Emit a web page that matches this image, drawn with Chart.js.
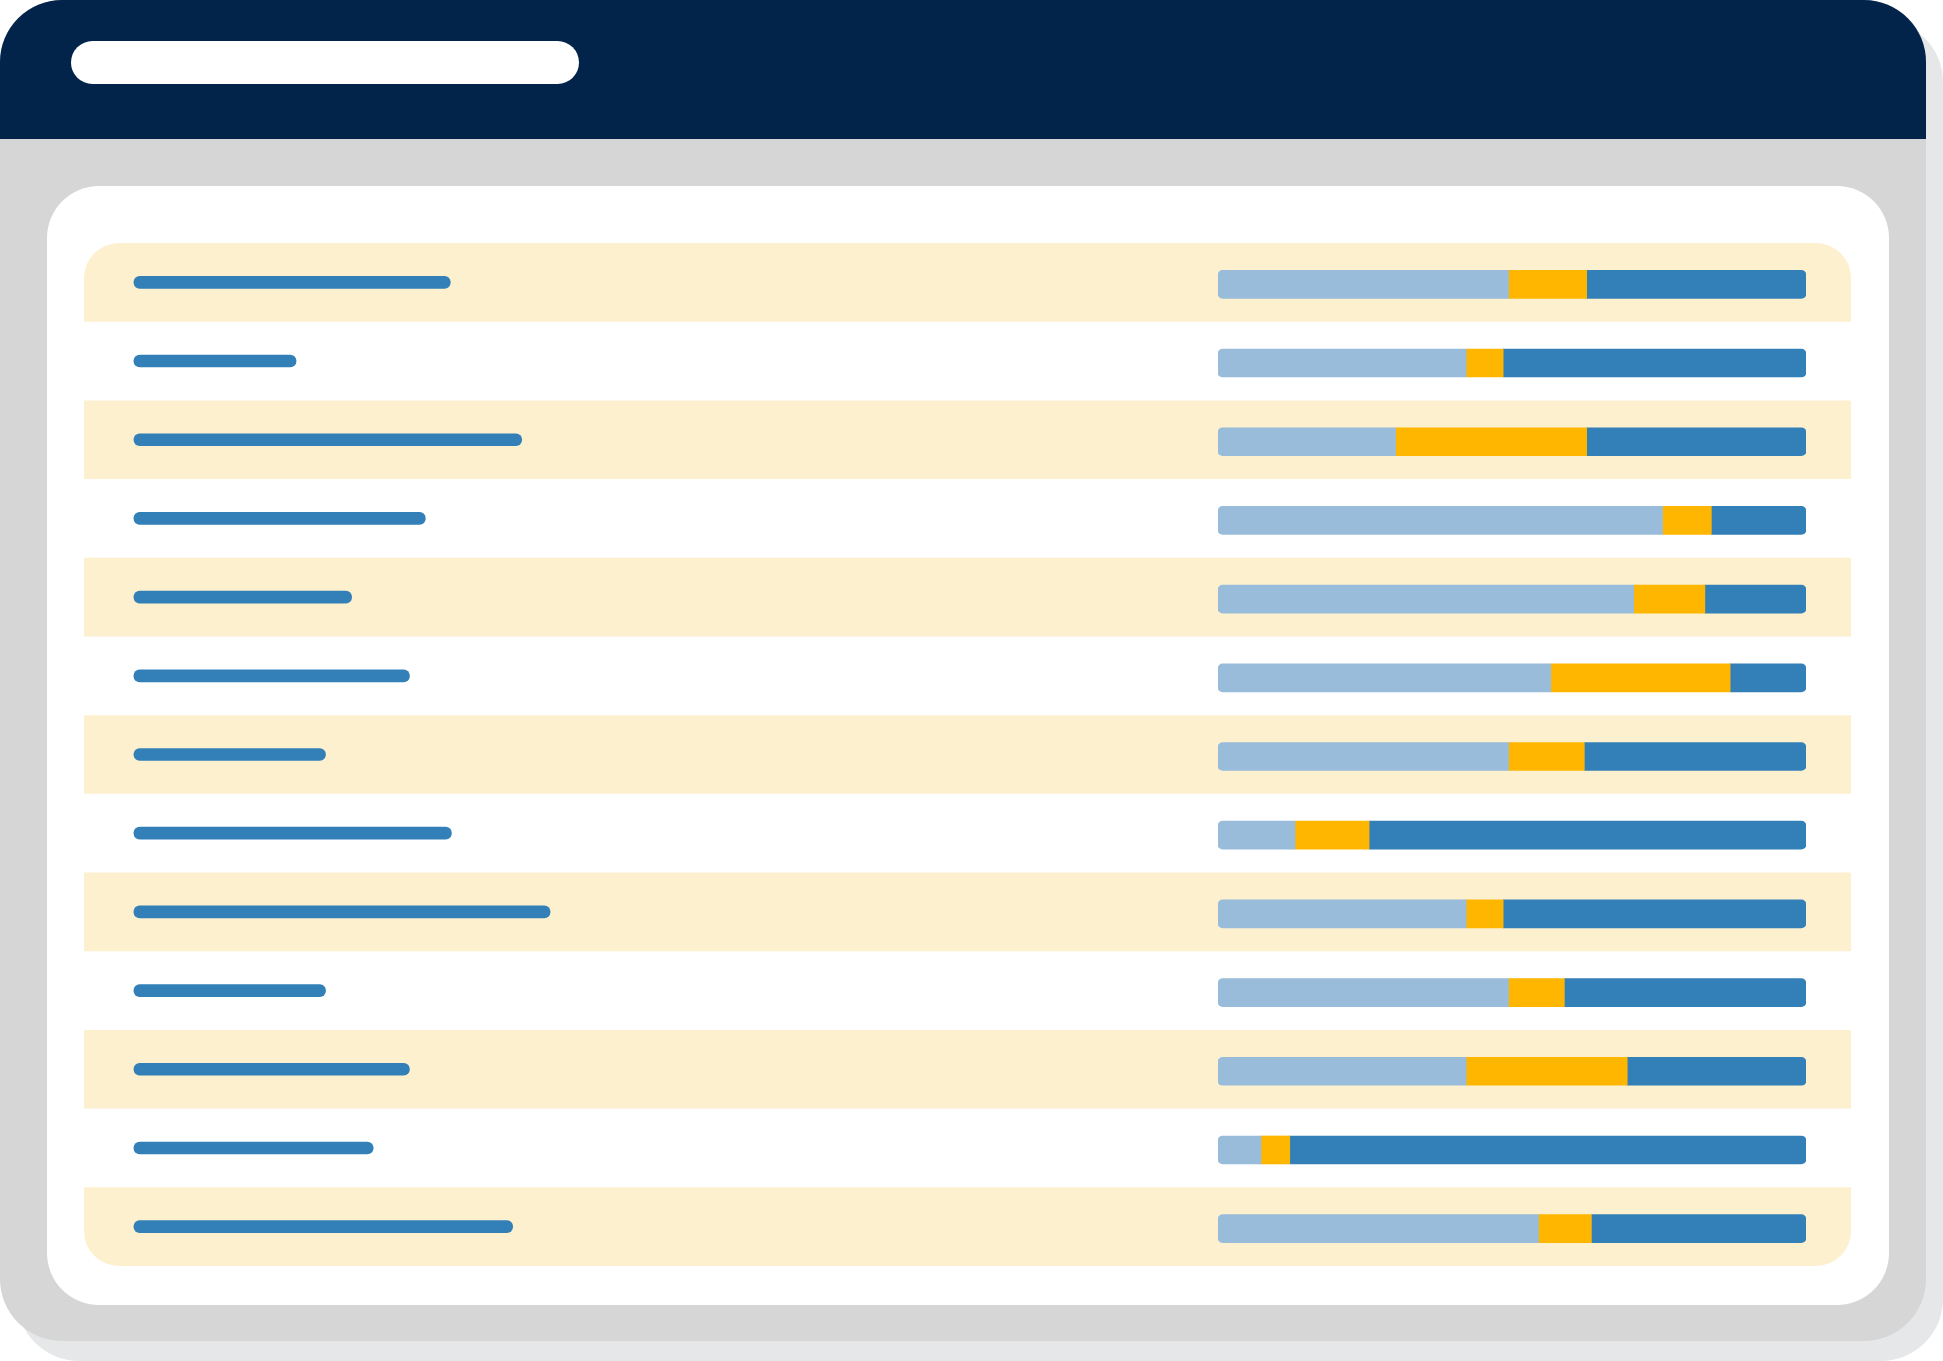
<!DOCTYPE html>
<html>
<head>
<meta charset="utf-8">
<script src="https://cdn.jsdelivr.net/npm/chart.js@4/dist/chart.umd.min.js"></script>
<style>
  body { margin: 0; width: 1943px; height: 1361px; background: #fff; position: relative; overflow: hidden; }
  .shadow { position: absolute; left: 17px; top: 20px; width: 1926px; height: 1341px; background: #e6e7e9; border-radius: 62px; }
  .frame { position: absolute; left: 0; top: 0; width: 1926px; height: 1341px; background: #d6d6d6; border-radius: 62px; overflow: hidden; }
  .header { position: absolute; left: 0; top: 0; width: 100%; height: 139px; background: #02244a; }
  .address { position: absolute; left: 71px; top: 41px; width: 508px; height: 43px; background: #fff; border-radius: 22px; }
  .panel { position: absolute; left: 47px; top: 186px; width: 1842px; height: 1119px; background: #fff; border-radius: 52px; }
  .chart-box { position: absolute; left: 84px; top: 243px; width: 1767px; height: 1023px; }
</style>
</head>
<body>
<div class="shadow"></div>
<div class="frame">
  <div class="header"><div class="address"></div></div>
  <div class="panel"></div>
</div>
<div class="chart-box"><canvas id="rows"></canvas></div>
<script>
const ctx = document.getElementById('rows');

// one category per row
const rows = ['1', '2', '3', '4', '5', '6', '7', '8', '9', '10', '11', '12', '13'];

// placeholder label lines (start / end, % of label column)
const labelStart = 4.4;
const labelEnd = [32.3, 18.7, 38.6, 30.1, 23.6, 28.7, 21.3, 32.4, 41.1, 21.3, 28.7, 25.5, 37.8];

// stacked bar segments (% of bar)
const partLight = [49.4, 42.2, 30.2, 75.6, 70.7, 56.6, 49.4, 13.1, 42.2, 49.4, 42.2, 7.3, 54.5];
const partYellow = [13.3, 6.3, 32.5, 8.3, 12.1, 30.5, 12.9, 12.6, 6.3, 9.5, 27.4, 4.9, 9.0];
const partBlue = [37.3, 51.5, 37.3, 16.1, 17.2, 12.9, 37.7, 74.3, 51.5, 41.1, 30.4, 87.8, 36.5];

const stripes = {
    id: 'stripes',
    beforeDatasetsDraw(chart) {
        const c = chart.ctx;
        const y = chart.scales.y;
        const rowH = y.getPixelForValue(1) - y.getPixelForValue(0);
        c.save();
        c.fillStyle = '#fdf0cf';
        for (let i = 0; i < rows.length; i += 2) {
            const top = y.getPixelForValue(i) - rowH / 2;
            let r = [0, 0, 0, 0];
            if (i === 0) r = [35, 35, 0, 0];
            if (i === rows.length - 1) r = [0, 0, 35, 35];
            c.beginPath();
            c.roundRect(0, top, chart.width, rowH, r);
            c.fill();
        }
        c.restore();
    },
    // bars sit a little lower than the label lines
    beforeDatasetDraw(chart, args) {
        chart.ctx.save();
        if (args.index > 0) chart.ctx.translate(0, 2);
    },
    afterDatasetDraw(chart) {
        chart.ctx.restore();
    }
};

new Chart(ctx, {
    type: 'bar',
    data: {
        labels: rows,
        datasets: [
            {
                label: 'label',
                data: labelEnd.map(v => [labelStart, v]),
                xAxisID: 'x2',
                backgroundColor: '#3380b8',
                barThickness: 12,
                borderRadius: 6,
                borderSkipped: false
            },
            {
                label: 'light',
                data: partLight,
                xAxisID: 'x',
                backgroundColor: '#98bcda',
                barThickness: 28,
                borderRadius: { topLeft: 5, bottomLeft: 5, topRight: 0, bottomRight: 0 },
                borderSkipped: false
            },
            {
                label: 'yellow',
                data: partYellow,
                xAxisID: 'x',
                backgroundColor: '#ffb600',
                barThickness: 28,
                borderRadius: 0
            },
            {
                label: 'blue',
                data: partBlue,
                xAxisID: 'x',
                backgroundColor: '#3380b8',
                barThickness: 28,
                borderRadius: { topLeft: 0, bottomLeft: 0, topRight: 5, bottomRight: 5 },
                borderSkipped: false
            }
        ]
    },
    options: {
        indexAxis: 'y',
        responsive: true,
        maintainAspectRatio: false,
        animation: false,
        events: [],
        layout: { padding: { left: 0, right: 45, top: 0, bottom: 0 } },
        plugins: {
            legend: { display: false },
            tooltip: { enabled: false }
        },
        scales: {
            x2: {
                type: 'linear', position: 'bottom', stack: 'cols', stackWeight: 1134, weight: 0,
                min: 0, max: 100, display: false
            },
            x: {
                type: 'linear', position: 'bottom', stack: 'cols', stackWeight: 588, weight: 1,
                min: 0, max: 100, stacked: true, display: false
            },
            y: {
                type: 'category', stacked: true, display: false
            }
        }
    },
    plugins: [stripes]
});
</script>
</body>
</html>
